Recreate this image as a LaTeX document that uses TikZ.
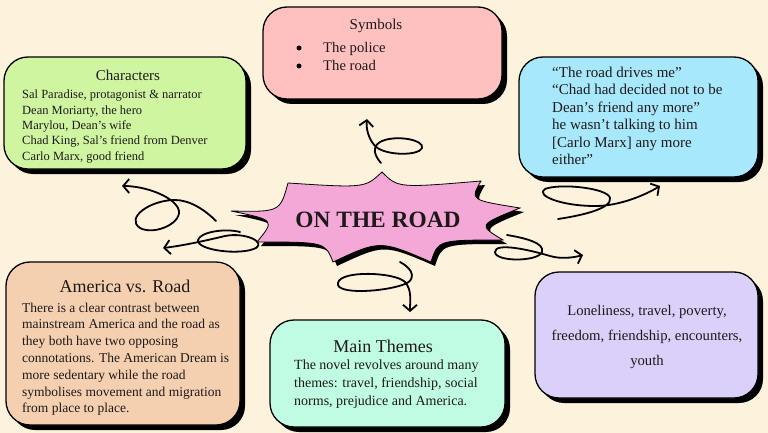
\documentclass[tikz,border=0pt]{standalone}
\usepackage{fontspec}
\setmainfont{Liberation Serif}
\usetikzlibrary{arrows.meta,shadows}
\definecolor{bg}{RGB}{253,242,220}
\definecolor{cgreen}{RGB}{208,245,160}
\definecolor{cpink}{RGB}{255,192,192}
\definecolor{cblue}{RGB}{168,232,252}
\definecolor{cpeach}{RGB}{245,208,176}
\definecolor{caqua}{RGB}{192,252,228}
\definecolor{clav}{RGB}{218,208,250}
\definecolor{cstar}{RGB}{244,168,216}
\definecolor{ink}{RGB}{30,25,25}
\begin{document}
\begin{tikzpicture}[x=1pt,y=-1pt,
  box/.style={draw=black, line width=1.3pt, rounded corners=24pt,
    drop shadow={shadow xshift=5pt, shadow yshift=-5pt, opacity=1, fill=black},
    inner sep=0pt},
  ttl/.style={text=ink, font=\fontsize{15}{18}\selectfont},
  bigttl/.style={text=ink, font=\fontsize{18}{21}\selectfont},
  txt/.style={text=ink, inner sep=0pt, align=left},
  curl/.style={draw=black, line width=1.8pt, line cap=round, line join=round,
    -{Straight Barb[length=6pt,width=14pt]}}]
\fill[bg] (0,0) rectangle (768,433);
\useasboundingbox (0,0) rectangle (768,433);

% ---- curly arrows ----
\coordinate (a0) at (381,163); \coordinate (a1) at (367,119);
\draw[curl] (a0) .. controls (374,155) and (372,147) .. (380,142)
  .. controls (395,134) and (425,140) .. (422,148)
  .. controls (419,156) and (385,156) .. (375,146)
  .. controls (368,138) and (366,128) .. (a1);

\coordinate (b0) at (216,221); \coordinate (b1) at (122,186);
\draw[curl] (b0) .. controls (205,210) and (190,200) .. (175,200)
  .. controls (150,200) and (125,218) .. (140,228)
  .. controls (155,236) and (185,222) .. (178,208)
  .. controls (172,196) and (145,186) .. (b1);

\coordinate (c0) at (240,232); \coordinate (c1) at (163,248);
\draw[curl] (c0) .. controls (225,228) and (200,232) .. (198,240)
  .. controls (196,250) and (240,256) .. (256,248)
  .. controls (266,242) and (245,232) .. (225,236)
  .. controls (200,242) and (180,246) .. (c1);

\coordinate (d0) at (558,219); \coordinate (d1) at (660,186);
\draw[curl] (d0) .. controls (585,215) and (612,208) .. (610,198)
  .. controls (608,188) and (560,183) .. (545,189)
  .. controls (535,195) and (560,206) .. (595,206)
  .. controls (620,206) and (645,195) .. (d1);

\coordinate (e0) at (507,235); \coordinate (e1) at (583,255);
\draw[curl] (e0) .. controls (525,238) and (545,243) .. (542,252)
  .. controls (538,262) and (495,262) .. (495,252)
  .. controls (495,242) and (530,250) .. (550,256)
  .. controls (560,259) and (572,258) .. (e1);

\coordinate (f0) at (400,262); \coordinate (f1) at (410,312);
\draw[curl] (f0) .. controls (415,270) and (415,280) .. (405,284)
  .. controls (385,292) and (335,295) .. (338,283)
  .. controls (340,270) and (395,272) .. (405,282)
  .. controls (412,290) and (410,300) .. (f1);

% ---- central star ----
\def\starpath{(231,211) .. controls (280,212) .. (288,183)
  .. controls (365,188) .. (382,172)
  .. controls (398,188) .. (481,181)
  .. controls (470,200) .. (520,208)
  .. controls (478,225) .. (503,240)
  .. controls (438,240) .. (431,262)
  .. controls (380,240) .. (333,262)
  .. controls (325,242) .. (257,242)
  .. controls (275,220) .. cycle}
\fill[black, xshift=4pt, yshift=-4pt] \starpath;
\filldraw[fill=cstar, draw=black, line width=0.8pt] \starpath;
\node[text=ink, font=\bfseries\fontsize{23.4}{26}\selectfont, anchor=base] (title) at (378,227) {ON THE ROAD};

% ---- boxes ----
\node[box, fill=cgreen, minimum width=242pt, minimum height=112pt] (chars) at (125,113) {};
\node[ttl, anchor=base] (charsT) at (128,81) {Characters};
\node[txt, anchor=north west, font=\fontsize{12.5}{15.3}\selectfont] (charsB) at (22,90)
  {Sal Paradise, protagonist \& narrator\\Dean Moriarty, the hero\\Marylou, Dean’s wife\\Chad King, Sal’s friend from Denver\\Carlo Marx, good friend};

\node[box, fill=cpink, minimum width=239pt, minimum height=92pt] (sym) at (382.5,53) {};
\node[ttl, anchor=base] (symT) at (376,30) {Symbols};
\node[circle, fill=black, inner sep=0pt, minimum size=5pt] (bul1) at (299,48) {};
\node[circle, fill=black, inner sep=0pt, minimum size=5pt] (bul2) at (299,66) {};
\node[txt, anchor=base west, font=\fontsize{14.7}{17}\selectfont] (sym1) at (323,53) {The police};
\node[txt, anchor=base west, font=\fontsize{14.7}{17}\selectfont] (sym2) at (323,71) {The road};

\node[box, fill=cblue, minimum width=239pt, minimum height=120pt] (quo) at (638.5,117) {};
\node[txt, anchor=north west, font=\fontsize{15}{17.5}\selectfont] (quoB) at (552,66.5)
  {“The road drives me”\\“Chad had decided not to be\\Dean’s friend any more”\\he wasn’t talking to him\\{[}Carlo Marx] any more\\either”};

\node[box, fill=cpeach, minimum width=234pt, minimum height=163pt] (amer) at (123,343.5) {};
\node[bigttl, anchor=base] (amerT) at (125,292) {America vs. Road};
\node[txt, anchor=north west, font=\fontsize{13.5}{16.8}\selectfont] (amerB) at (22,302.5)
  {There is a clear contrast between\\mainstream America and the road as\\they both have two opposing\\connotations. The American Dream is\\more sedentary while the road\\symbolises movement and migration\\from place to place.};

\node[box, fill=caqua, minimum width=235pt, minimum height=107pt] (them) at (387.5,373.5) {};
\node[bigttl, anchor=base] (themT) at (383,352.7) {Main Themes};
\node[txt, anchor=north west, font=\fontsize{14}{17.7}\selectfont] (themB) at (294,360)
  {The novel revolves around many\\themes: travel, friendship, social\\norms, prejudice and America.};

\node[box, fill=clav, minimum width=223pt, minimum height=126pt] (lav) at (646.5,335) {};
\node[txt, align=center, anchor=north, font=\fontsize{14.7}{25}\selectfont] (lavB) at (647,304.7)
  {Loneliness, travel, poverty,\\freedom, friendship, encounters,\\youth};
\end{tikzpicture}
\end{document}
